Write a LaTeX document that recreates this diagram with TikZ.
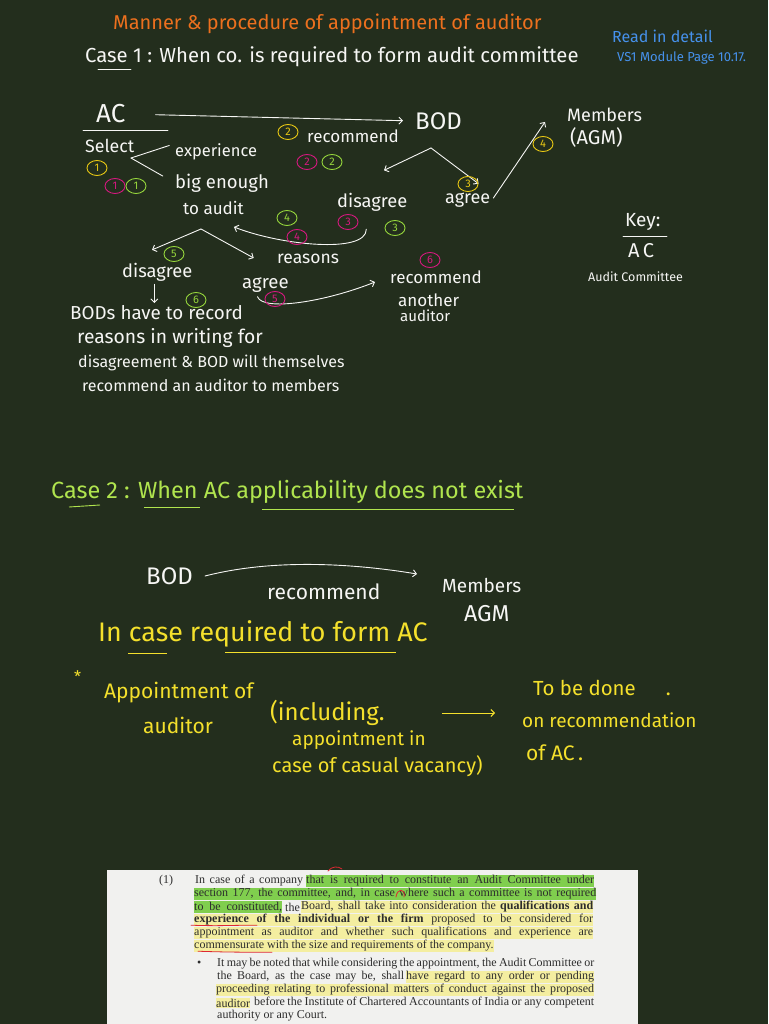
\documentclass[tikz,border=0pt]{standalone}
\usepackage{fontspec}
\setmainfont{Fira Sans}
\newfontfamily\bookfont{Liberation Serif}
\usetikzlibrary{arrows.meta,shapes.geometric,calc}

\definecolor{board}{RGB}{35,46,29}
\definecolor{chalk}{RGB}{246,246,244}
\definecolor{orangeink}{RGB}{236,112,30}
\definecolor{blueink}{RGB}{70,145,235}
\definecolor{yellowink}{RGB}{232,200,20}
\definecolor{yellowtext}{RGB}{244,224,44}
\definecolor{magentaink}{RGB}{214,24,128}
\definecolor{limeink}{RGB}{150,214,60}
\definecolor{casetwoink}{RGB}{176,228,78}
\definecolor{paper}{RGB}{241,241,239}
\definecolor{ink}{RGB}{45,45,45}
\definecolor{hlgreen}{RGB}{128,206,78}
\definecolor{hlyellow}{RGB}{244,238,160}
\definecolor{redpen}{RGB}{222,40,50}

\newcommand{\hand}[1]{\fontsize{#1}{#1}\selectfont}
\newcommand{\spread}[2]{\makebox[#1pt][s]{#2}}

\tikzset{
  note/.style={inner sep=0pt, anchor=west, text=chalk},
  chalkline/.style={draw=chalk, line width=0.9pt, line cap=round},
  arr/.style={chalkline, -{Straight Barb[length=3.5pt,width=7pt]}},
  yarr/.style={draw=yellowtext, line width=0.9pt, -{Straight Barb[length=3.5pt,width=7pt]}},
  num/.style={ellipse, draw=#1, text=#1, line width=0.9pt, inner sep=0pt,
    minimum width=20pt, minimum height=15pt, font=\hand{11}},
  book/.style={inner sep=0pt, anchor=west, text=ink, font=\bookfont\fontsize{12}{13}\selectfont},
  hlg/.style={book, fill=hlgreen, inner ysep=0.5pt},
  hly/.style={book, fill=hlyellow, inner ysep=0.5pt},
  pen/.style={draw=redpen, line width=0.8pt, line cap=round},
}

\begin{document}
\begin{tikzpicture}[x=1pt,y=-1pt]
\path[use as bounding box, fill=board] (0,0) rectangle (768,1024);

% heading
\node[note, text=orangeink, font=\hand{20}] (title) at (113,24) {Manner \& procedure of appointment of auditor};
\node[note, font=\hand{20.3}] (caseone) at (85,57) {Case 1 : When co. is required to form audit committee};
\draw[chalkline] (98,69) -- (131,69);
\node[note, text=blueink, font=\hand{16}] (readmore) at (612,36) {Read in detail};
\node[note, text=blueink, font=\hand{13}] (modulepage) at (617,58) {VS1 Module Page 10.17.};

% case 1: committee recommends, board decides
\node[note, font=\hand{26}] (ac) at (96,114) {AC};
\draw[chalkline] (83,130) -- (168,130);
\node[note, font=\hand{24}] (bod) at (415,121) {BOD};
\draw[arr, shorten <=30pt, shorten >=12pt] (ac.east) -- (bod.west);
\node[note, font=\hand{17.8}] (select) at (85,146) {Select};
\node[note, font=\hand{16.5}] (experience) at (175,152) {experience};
\node[note, font=\hand{18.5}] (bigenough) at (175,183) {big enough};
\node[note, font=\hand{17}] (toaudit) at (183,208) {to audit};
\coordinate (selfork) at (131,158);
\draw[chalkline, shorten >=6pt] (selfork) -- (experience.north west);
\draw[chalkline, shorten >=14pt] (selfork) -- (bigenough.west);
\node[note, font=\hand{17}] (recommend) at (307,136) {recommend};
\node[note, font=\hand{18.3}] (disagreeA) at (337,202) {disagree};
\node[note, font=\hand{18}] (agreeA) at (445,200) {agree};
\coordinate (bodfork) at (431,148);
\draw[arr] (bodfork) -- ($(bodfork)!.5!(disagreeA.north west)$);
\draw[arr] (bodfork) -- ($(bodfork)!.8!(agreeA.north east)$);
\node[note, font=\hand{18}] (members) at (567,115) {Members};
\node[note, font=\hand{20}] (agm) at (570,138) {(AGM)};
\draw[arr] ([shift={(3,-2)}]agreeA.east) -- ([shift={(-22,7)}]members.west);
\draw[arr] ([shift={(-6,18)}]disagreeA.south) .. controls +(0,25) and +(45,18) .. ([shift={(-10,12)}]toaudit.south east);
\node[note, font=\hand{17.5}] (reasons) at (277,259) {reasons};
\coordinate (auditfork) at (201,229);
\node[note, font=\hand{18.3}] (disagreeB) at (122,272) {disagree};
\node[note, font=\hand{18.6}] (agreeB) at (242,285) {agree};
\draw[arr] (auditfork) -- ($(auditfork)!.62!(disagreeB.north west)$);
\draw[arr] (auditfork) -- ($(auditfork)!.6!(agreeB.north east)$);
\node[note, font=\hand{17}] (recB) at (390,277) {recommend};
\node[note, font=\hand{17}] (recBb) at (398,300) {another};
\node[note, font=\hand{15}] (recBc) at (400,316) {auditor};
\draw[arr] ([shift={(-8,4)}]agreeB.south) .. controls +(5,15) and +(-50,20) .. ([shift={(-15,5)}]recB.west);
\node[note, anchor=north west, align=left, font=\fontsize{16}{24}\selectfont] (bodsrec) at (70,305)
  {{\fontsize{18.8}{24}\selectfont BODs have to record}\\
   \hspace{7pt}{\fontsize{19.3}{24}\selectfont reasons in writing for}\\
   \hspace{8pt}disagreement \& BOD will themselves\\
   \hspace{12pt}recommend an auditor to members};
\draw[arr, shorten <=3pt, shorten >=2pt] ([xshift=-3pt]disagreeB.south) -- ([xshift=-3pt]disagreeB.south |- bodsrec.north);

% circled step numbers
\foreach \n/\px/\py in {1/97/168, 2/288/132, 3/468/184, 4/543/144}
  \node[num=yellowink] (yel\n) at (\px,\py) {\n};
\foreach \n/\px/\py in {1/115/186, 2/307/162, 3/348/222, 4/297/237, 5/275/299, 6/430/260}
  \node[num=magentaink] (mag\n) at (\px,\py) {\n};
\foreach \n/\px/\py in {1/136/186, 2/332/162, 3/395/228, 4/287/218, 5/174/254, 6/196/300}
  \node[num=limeink] (lime\n) at (\px,\py) {\n};

% key
\node[note, font=\hand{19}] (key) at (625,222) {Key:};
\draw[chalkline] (623,236) -- (667,236);
\node[note, font=\hand{20}] (keyac) at (628,251) {A\,C};
\node[note, font=\hand{12.5}] (keyname) at (588,277) {Audit Committee};

% case 2
\node[note, text=casetwoink, font=\hand{23.4}] (casetwo) at (51,492) {Case 2 : When AC applicability does not exist};
\draw[draw=casetwoink, line width=0.9pt] (69,507) -- (100,505);
\draw[draw=casetwoink, line width=0.9pt] (144,507) -- (200,507);
\draw[draw=casetwoink, line width=0.9pt] (262,509) -- (514,509);
\node[note, font=\hand{24}] (bodB) at (146,576) {BOD};
\node[note, font=\hand{21}] (recommendB) at (267,592) {recommend};
\node[note, font=\hand{19}] (membersB) at (442,585) {Members};
\node[note, font=\hand{23}] (agmB) at (464,614) {AGM};
\draw[arr] ([xshift=12pt]bodB.east) .. controls +(70,-18) and +(-60,-10) .. ([shift={(-25,-11)}]membersB.west);
\node[note, text=yellowtext, font=\hand{26.8}] (formac) at (98,634) {In case required to form AC};
\draw[draw=yellowtext, line width=0.9pt] (128,653) -- (167,653);
\draw[draw=yellowtext, line width=0.9pt] (225,652) -- (396,652);

% appointment on recommendation of AC
\node[note, text=yellowtext, font=\hand{16}] (star) at (74,677) {*};
\node[note, text=yellowtext, font=\hand{21}] (appointment) at (104,693) {Appointment of};
\node[note, text=yellowtext, font=\hand{21}] (auditorY) at (143,725) {auditor};
\node[note, text=yellowtext, font=\hand{24}] (including) at (270,713) {(including.};
\node[note, text=yellowtext, font=\hand{19}] (casualA) at (292,740) {appointment in};
\node[note, text=yellowtext, font=\hand{20}] (casualB) at (272,766) {case of casual vacancy)};
\node[note, text=yellowtext, font=\hand{20.4}] (tobedone) at (533,688) {To be done\hspace{30pt}.};
\node[note, text=yellowtext, font=\hand{19}] (onrec) at (522,720) {on recommendation};
\node[note, text=yellowtext, font=\hand{21}] (ofac) at (526,753) {of AC\,.};
\draw[yarr, shorten <=57pt, shorten >=27pt] (including.east) -- (including.east -| onrec.west);

% excerpt from the module
\fill[paper] (107,870) rectangle (638,1024);
\node[book] (itemno) at (159,881) {(1)};
\node[book] (pA1) at (195,881) {\spread{108}{In case of a company}};
\node[hlg] (pA2) at (306,881) {\spread{288}{that is required to constitute an Audit Committee under}};
\node[hlg] (pB) at (194,894) {\spread{402}{section 177, the committee, and, in case where such a committee is not required}};
\node[hlg] (pC1) at (194,907) {\spread{88}{to be constituted,}};
\node[book] (pC2) at (285,907) {the};
\node[hly] (pC3) at (301,907) {\spread{292}{Board, shall take into consideration the \textbf{qualifications and}}};
\node[hly] (pD) at (194,920) {\spread{399}{\textbf{experience of the individual or the firm} proposed to be considered for}};
\node[hly] (pE) at (194,933) {\spread{399}{appointment as auditor and whether such qualifications and experience are}};
\node[hly] (pF) at (194,946) {commensurate with the size and requirements of the company.};
\node[book] (bullet) at (197,964) {\textbullet};
\node[book] (qA) at (217,964) {\spread{377}{It may be noted that while considering the appointment, the Audit Committee or}};
\node[book] (qB1) at (217,977) {\spread{187}{the Board, as the case may be, shall}};
\node[hly] (qB2) at (406,977) {\spread{188}{have regard to any order or pending}};
\node[hly] (qC) at (216,990) {\spread{378}{proceeding relating to professional matters of conduct against the proposed}};
\node[hly] (qD1) at (216,1003) {auditor};
\node[book] (qD2) at (254,1003) {\spread{340}{before the Institute of Chartered Accountants of India or any competent}};
\node[book] (qE) at (217,1016) {authority or any Court.};
\draw[pen] (pD.south west) ++(-3,-1) .. controls +(30,1) and +(-30,0) .. ++(66,0);
\draw[pen] (pF.south west) ++(4,-1) .. controls +(30,1) and +(-30,0) .. ++(74,1);
\draw[pen] (328,871) .. controls (332,866) and (338,866) .. (342,869);
\draw[pen] (396,897) .. controls (397,888) and (406,888) .. (404,897);
\end{tikzpicture}
\end{document}
